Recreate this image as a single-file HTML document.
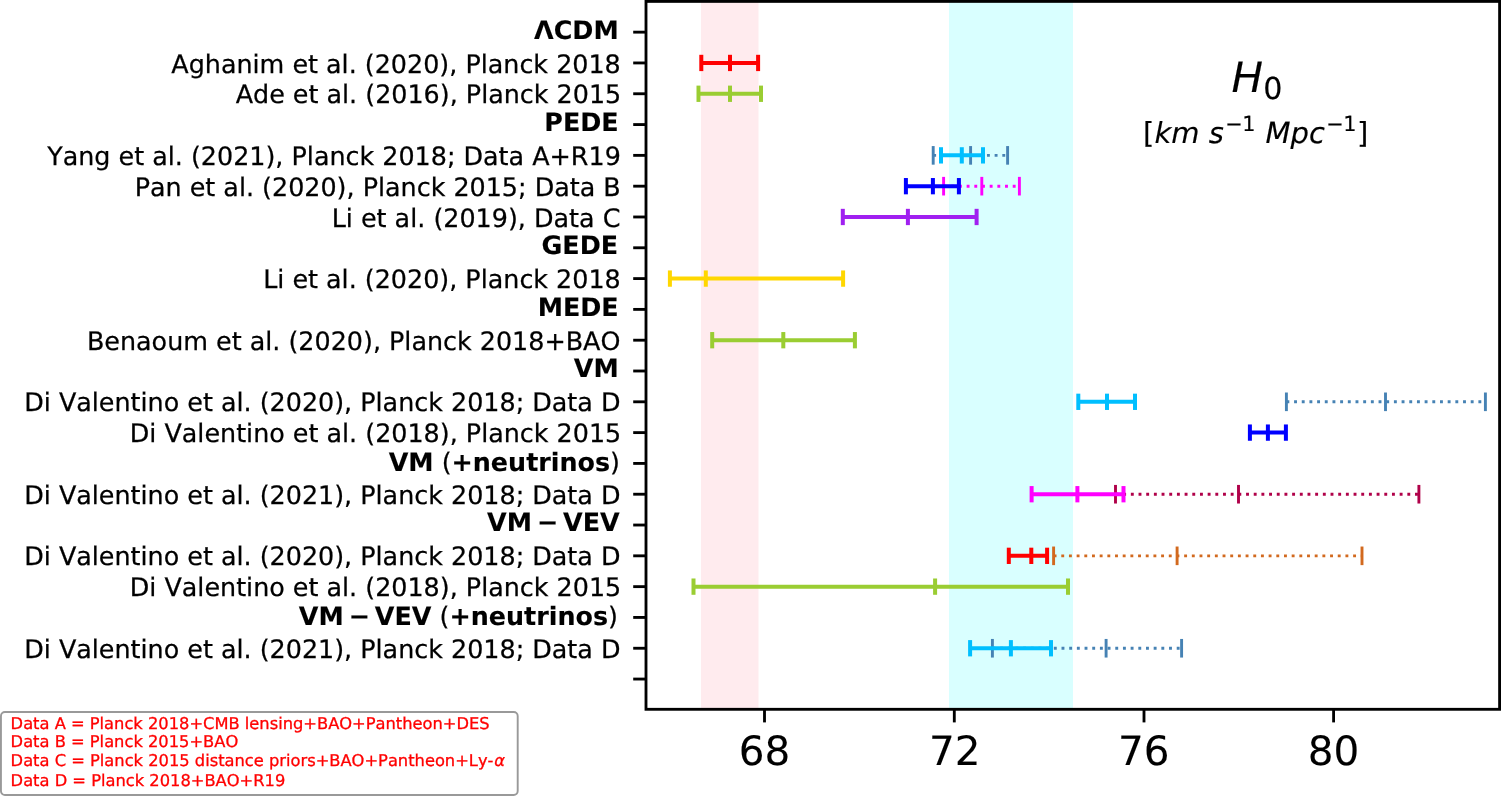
<!DOCTYPE html>
<html><head><meta charset="utf-8"><title>H0 compilation</title>
<style>html,body{margin:0;padding:0;background:#ffffff;overflow:hidden}svg{display:block}text{font-family:"DejaVu Sans","Liberation Sans",sans-serif;font-kerning:none;font-feature-settings:"kern" 0;text-rendering:geometricPrecision}.r{stroke:#000;stroke-width:.25px}.b{stroke:#000;stroke-width:.12px}.t{stroke:#000;stroke-width:.1px}.h{stroke:#000;stroke-width:.15px}.l{stroke:#f00;stroke-width:.3px}</style></head><body>
<svg width="1501" height="796" viewBox="0 0 1501 796">
<rect x="0" y="0" width="1501" height="796" fill="#ffffff"/>
<rect x="701" y="1.4" width="57.5" height="707.9" fill="#FFEBEE"/>
<rect x="949" y="1.4" width="124" height="707.9" fill="#D9FFFF"/>
<line x1="701.3" y1="62.95" x2="758.1" y2="62.95" stroke="#FF0000" stroke-width="4.0"/>
<rect x="699.3" y="54.8" width="4" height="16.3" fill="#FF0000"/>
<rect x="756.1" y="54.8" width="4" height="16.3" fill="#FF0000"/>
<rect x="728" y="54.8" width="4" height="16.3" fill="#FF0000"/>
<line x1="698.5" y1="93.76" x2="761" y2="93.76" stroke="#9ACD32" stroke-width="4.0"/>
<rect x="696.5" y="85.61" width="4" height="16.3" fill="#9ACD32"/>
<rect x="759" y="85.61" width="4" height="16.3" fill="#9ACD32"/>
<rect x="728" y="85.61" width="4" height="16.3" fill="#9ACD32"/>
<line x1="933.2" y1="155.37" x2="1007.6" y2="155.37" stroke="#4682B4" stroke-width="2.9" stroke-dasharray="2.9 4.78"/>
<rect x="931.75" y="146.07" width="2.9" height="18.6" fill="#4682B4"/>
<rect x="1006.15" y="146.07" width="2.9" height="18.6" fill="#4682B4"/>
<rect x="969.15" y="146.07" width="2.9" height="18.6" fill="#4682B4"/>
<line x1="941" y1="155.37" x2="983" y2="155.37" stroke="#00BFFF" stroke-width="4.0"/>
<rect x="939" y="147.22" width="4" height="16.3" fill="#00BFFF"/>
<rect x="981" y="147.22" width="4" height="16.3" fill="#00BFFF"/>
<rect x="959.8" y="147.22" width="4" height="16.3" fill="#00BFFF"/>
<line x1="943.6" y1="186.18" x2="1019.4" y2="186.18" stroke="#FF00FF" stroke-width="2.9" stroke-dasharray="2.9 4.78"/>
<rect x="942.15" y="176.88" width="2.9" height="18.6" fill="#FF00FF"/>
<rect x="1017.95" y="176.88" width="2.9" height="18.6" fill="#FF00FF"/>
<rect x="980.35" y="176.88" width="2.9" height="18.6" fill="#FF00FF"/>
<line x1="905.9" y1="186.18" x2="958.9" y2="186.18" stroke="#0000FF" stroke-width="4.0"/>
<rect x="903.9" y="178.03" width="4" height="16.3" fill="#0000FF"/>
<rect x="956.9" y="178.03" width="4" height="16.3" fill="#0000FF"/>
<rect x="930.9" y="178.03" width="4" height="16.3" fill="#0000FF"/>
<line x1="842.8" y1="216.98" x2="976.6" y2="216.98" stroke="#A020F0" stroke-width="4.0"/>
<rect x="840.8" y="208.83" width="4" height="16.3" fill="#A020F0"/>
<rect x="974.6" y="208.83" width="4" height="16.3" fill="#A020F0"/>
<rect x="905.9" y="208.83" width="4" height="16.3" fill="#A020F0"/>
<line x1="669.9" y1="278.59" x2="843.1" y2="278.59" stroke="#FFD700" stroke-width="4.0"/>
<rect x="667.9" y="270.44" width="4" height="16.3" fill="#FFD700"/>
<rect x="841.1" y="270.44" width="4" height="16.3" fill="#FFD700"/>
<rect x="703.8" y="270.44" width="4" height="16.3" fill="#FFD700"/>
<line x1="712.2" y1="340.2" x2="854.9" y2="340.2" stroke="#9ACD32" stroke-width="4.0"/>
<rect x="710.2" y="332.05" width="4" height="16.3" fill="#9ACD32"/>
<rect x="852.9" y="332.05" width="4" height="16.3" fill="#9ACD32"/>
<rect x="781.3" y="332.05" width="4" height="16.3" fill="#9ACD32"/>
<line x1="1286.4" y1="401.81" x2="1485.4" y2="401.81" stroke="#4682B4" stroke-width="2.9" stroke-dasharray="2.9 4.78"/>
<rect x="1284.95" y="392.51" width="2.9" height="18.6" fill="#4682B4"/>
<rect x="1483.95" y="392.51" width="2.9" height="18.6" fill="#4682B4"/>
<rect x="1384.05" y="392.51" width="2.9" height="18.6" fill="#4682B4"/>
<line x1="1078.3" y1="401.81" x2="1135" y2="401.81" stroke="#00BFFF" stroke-width="4.0"/>
<rect x="1076.3" y="393.66" width="4" height="16.3" fill="#00BFFF"/>
<rect x="1133" y="393.66" width="4" height="16.3" fill="#00BFFF"/>
<rect x="1105" y="393.66" width="4" height="16.3" fill="#00BFFF"/>
<line x1="1249.9" y1="432.61" x2="1285.9" y2="432.61" stroke="#0000FF" stroke-width="4.0"/>
<rect x="1247.9" y="424.46" width="4" height="16.3" fill="#0000FF"/>
<rect x="1283.9" y="424.46" width="4" height="16.3" fill="#0000FF"/>
<rect x="1265.9" y="424.46" width="4" height="16.3" fill="#0000FF"/>
<line x1="1115.5" y1="494.22" x2="1418.9" y2="494.22" stroke="#B00149" stroke-width="2.9" stroke-dasharray="2.9 4.78"/>
<rect x="1114.05" y="484.92" width="2.9" height="18.6" fill="#B00149"/>
<rect x="1417.45" y="484.92" width="2.9" height="18.6" fill="#B00149"/>
<rect x="1237.05" y="484.92" width="2.9" height="18.6" fill="#B00149"/>
<line x1="1031.6" y1="494.22" x2="1123.5" y2="494.22" stroke="#FF00FF" stroke-width="4.0"/>
<rect x="1029.6" y="486.07" width="4" height="16.3" fill="#FF00FF"/>
<rect x="1121.5" y="486.07" width="4" height="16.3" fill="#FF00FF"/>
<rect x="1075.4" y="486.07" width="4" height="16.3" fill="#FF00FF"/>
<line x1="1053.6" y1="555.83" x2="1362" y2="555.83" stroke="#D2691E" stroke-width="2.9" stroke-dasharray="2.9 4.78"/>
<rect x="1052.15" y="546.53" width="2.9" height="18.6" fill="#D2691E"/>
<rect x="1360.55" y="546.53" width="2.9" height="18.6" fill="#D2691E"/>
<rect x="1175.65" y="546.53" width="2.9" height="18.6" fill="#D2691E"/>
<line x1="1008.8" y1="555.83" x2="1047.1" y2="555.83" stroke="#FF0000" stroke-width="4.0"/>
<rect x="1006.8" y="547.68" width="4" height="16.3" fill="#FF0000"/>
<rect x="1045.1" y="547.68" width="4" height="16.3" fill="#FF0000"/>
<rect x="1029.3" y="547.68" width="4" height="16.3" fill="#FF0000"/>
<line x1="693.5" y1="586.64" x2="1068" y2="586.64" stroke="#9ACD32" stroke-width="4.0"/>
<rect x="691.5" y="578.49" width="4" height="16.3" fill="#9ACD32"/>
<rect x="1066" y="578.49" width="4" height="16.3" fill="#9ACD32"/>
<rect x="933.1" y="578.49" width="4" height="16.3" fill="#9ACD32"/>
<line x1="992.4" y1="648.25" x2="1181.6" y2="648.25" stroke="#4682B4" stroke-width="2.9" stroke-dasharray="2.9 4.78"/>
<rect x="990.95" y="638.95" width="2.9" height="18.6" fill="#4682B4"/>
<rect x="1180.15" y="638.95" width="2.9" height="18.6" fill="#4682B4"/>
<rect x="1104.65" y="638.95" width="2.9" height="18.6" fill="#4682B4"/>
<line x1="970.1" y1="648.25" x2="1051" y2="648.25" stroke="#00BFFF" stroke-width="4.0"/>
<rect x="968.1" y="640.1" width="4" height="16.3" fill="#00BFFF"/>
<rect x="1049" y="640.1" width="4" height="16.3" fill="#00BFFF"/>
<rect x="1008.9" y="640.1" width="4" height="16.3" fill="#00BFFF"/>
<rect x="646" y="1.4" width="853.6" height="707.9" fill="none" stroke="#000" stroke-width="2.85"/>
<line x1="633.2" y1="32.15" x2="646" y2="32.15" stroke="#000" stroke-width="2.85"/>
<line x1="633.2" y1="62.95" x2="646" y2="62.95" stroke="#000" stroke-width="2.85"/>
<line x1="633.2" y1="93.76" x2="646" y2="93.76" stroke="#000" stroke-width="2.85"/>
<line x1="633.2" y1="124.56" x2="646" y2="124.56" stroke="#000" stroke-width="2.85"/>
<line x1="633.2" y1="155.37" x2="646" y2="155.37" stroke="#000" stroke-width="2.85"/>
<line x1="633.2" y1="186.18" x2="646" y2="186.18" stroke="#000" stroke-width="2.85"/>
<line x1="633.2" y1="216.98" x2="646" y2="216.98" stroke="#000" stroke-width="2.85"/>
<line x1="633.2" y1="247.78" x2="646" y2="247.78" stroke="#000" stroke-width="2.85"/>
<line x1="633.2" y1="278.59" x2="646" y2="278.59" stroke="#000" stroke-width="2.85"/>
<line x1="633.2" y1="309.39" x2="646" y2="309.39" stroke="#000" stroke-width="2.85"/>
<line x1="633.2" y1="340.2" x2="646" y2="340.2" stroke="#000" stroke-width="2.85"/>
<line x1="633.2" y1="371" x2="646" y2="371" stroke="#000" stroke-width="2.85"/>
<line x1="633.2" y1="401.81" x2="646" y2="401.81" stroke="#000" stroke-width="2.85"/>
<line x1="633.2" y1="432.61" x2="646" y2="432.61" stroke="#000" stroke-width="2.85"/>
<line x1="633.2" y1="463.42" x2="646" y2="463.42" stroke="#000" stroke-width="2.85"/>
<line x1="633.2" y1="494.22" x2="646" y2="494.22" stroke="#000" stroke-width="2.85"/>
<line x1="633.2" y1="525.03" x2="646" y2="525.03" stroke="#000" stroke-width="2.85"/>
<line x1="633.2" y1="555.83" x2="646" y2="555.83" stroke="#000" stroke-width="2.85"/>
<line x1="633.2" y1="586.64" x2="646" y2="586.64" stroke="#000" stroke-width="2.85"/>
<line x1="633.2" y1="617.44" x2="646" y2="617.44" stroke="#000" stroke-width="2.85"/>
<line x1="633.2" y1="648.25" x2="646" y2="648.25" stroke="#000" stroke-width="2.85"/>
<line x1="633.2" y1="679.05" x2="646" y2="679.05" stroke="#000" stroke-width="2.85"/>
<line x1="764.5" y1="709.3" x2="764.5" y2="722.4" stroke="#000" stroke-width="2.85"/>
<text class="t" x="738.7" y="765.45" font-size="40.5">68</text>
<line x1="954.3" y1="709.3" x2="954.3" y2="722.4" stroke="#000" stroke-width="2.85"/>
<text class="t" x="928.92" y="765.45" font-size="40.5">72</text>
<line x1="1144" y1="709.3" x2="1144" y2="722.4" stroke="#000" stroke-width="2.85"/>
<text class="t" x="1117.88" y="765.45" font-size="40.5">76</text>
<line x1="1333.6" y1="709.3" x2="1333.6" y2="722.4" stroke="#000" stroke-width="2.85"/>
<text class="t" x="1307.8" y="765.45" font-size="40.5">80</text>
<text class="b" x="618.7" y="38.95" font-size="25.4" font-weight="bold" text-anchor="end">ΛCDM</text>
<text class="r" x="620.76" y="72.5" font-size="25.4" text-anchor="end">Aghanim et al. (2020), Planck 2018</text>
<text class="r" x="621.21" y="103.31" font-size="25.4" text-anchor="end">Ade et al. (2016), Planck 2015</text>
<text class="b" x="618.7" y="130.97" font-size="25.4" font-weight="bold" text-anchor="end">PEDE</text>
<text class="r" x="620.81" y="164.92" font-size="25.4" text-anchor="end">Yang et al. (2021), Planck 2018; Data A+R19</text>
<text class="r" x="620.77" y="195.73" font-size="25.4" text-anchor="end">Pan et al. (2020), Planck 2015; Data B</text>
<text class="r" x="620.39" y="226.53" font-size="25.4" text-anchor="end">Li et al. (2019), Data C</text>
<text class="b" x="618.1" y="254.19" font-size="25.4" font-weight="bold" text-anchor="end">GEDE</text>
<text class="r" x="620.76" y="288.14" font-size="25.4" text-anchor="end">Li et al. (2020), Planck 2018</text>
<text class="b" x="618.7" y="315.79" font-size="25.4" font-weight="bold" text-anchor="end">MEDE</text>
<text class="r" x="620.44" y="349.75" font-size="25.4" text-anchor="end">Benaoum et al. (2020), Planck 2018+BAO</text>
<text class="b" x="618.7" y="377.4" font-size="25.4" font-weight="bold" text-anchor="end">VM</text>
<text class="r" x="620.51" y="411.36" font-size="25.4" text-anchor="end">Di Valentino et al. (2020), Planck 2018; Data D</text>
<text class="r" x="621.21" y="442.16" font-size="25.4" text-anchor="end">Di Valentino et al. (2018), Planck 2015</text>
<text y="470.72" font-size="25.4"><tspan x="388.69" font-weight="bold" class="b">V</tspan><tspan x="408.33" font-weight="bold" class="b">M</tspan><tspan x="433.58" class="r"> </tspan><tspan x="441.65" class="r">(</tspan><tspan x="451.55" font-weight="bold" class="b">+</tspan><tspan x="472.81" font-weight="bold" class="b">neutrinos</tspan><tspan x="610.09" class="r">)</tspan></text>
<text class="r" x="620.51" y="503.77" font-size="25.4" text-anchor="end">Di Valentino et al. (2021), Planck 2018; Data D</text>
<text y="531.43" font-size="25.4"><tspan x="487.05" font-weight="bold" class="b">V</tspan><tspan x="506.69" font-weight="bold" class="b">M</tspan><tspan x="536.88" font-weight="bold" class="b">−</tspan><tspan x="563.09" font-weight="bold" class="b">V</tspan><tspan x="582.73" font-weight="bold" class="b">E</tspan><tspan x="600.06" font-weight="bold" class="b">V</tspan></text>
<text class="r" x="620.51" y="565.38" font-size="25.4" text-anchor="end">Di Valentino et al. (2020), Planck 2018; Data D</text>
<text class="r" x="621.21" y="596.19" font-size="25.4" text-anchor="end">Di Valentino et al. (2018), Planck 2015</text>
<text y="624.74" font-size="25.4"><tspan x="298.83" font-weight="bold" class="b">V</tspan><tspan x="318.47" font-weight="bold" class="b">M</tspan><tspan x="348.67" font-weight="bold" class="b">−</tspan><tspan x="374.87" font-weight="bold" class="b">V</tspan><tspan x="394.51" font-weight="bold" class="b">E</tspan><tspan x="411.84" font-weight="bold" class="b">V</tspan><tspan x="431.48" class="r"> </tspan><tspan x="439.55" class="r">(</tspan><tspan x="449.45" font-weight="bold" class="b">+</tspan><tspan x="470.71" font-weight="bold" class="b">neutrinos</tspan><tspan x="607.99" class="r">)</tspan></text>
<text class="r" x="620.51" y="657.8" font-size="25.4" text-anchor="end">Di Valentino et al. (2021), Planck 2018; Data D</text>
<text class="h" y="91.5" font-size="41.9"><tspan x="1231.5" font-style="oblique">H</tspan><tspan x="1263.2" y="99.4" font-size="30.2">0</tspan></text>
<text class="h"><tspan x="1143.1" y="142.9" font-size="29">[</tspan><tspan x="1154.41" y="142.9" font-size="29" font-style="oblique">k</tspan><tspan x="1171.21" y="142.9" font-size="29" font-style="oblique">m</tspan><tspan x="1208.87" y="142.9" font-size="29" font-style="oblique">s</tspan><tspan x="1225.33" y="131.4" font-size="20.8">−</tspan><tspan x="1242.34" y="131.4" font-size="20.8">1</tspan><tspan x="1265.46" y="142.9" font-size="29" font-style="oblique">M</tspan><tspan x="1290.48" y="142.9" font-size="29" font-style="oblique">p</tspan><tspan x="1308.89" y="142.9" font-size="29" font-style="oblique">c</tspan><tspan x="1326.19" y="131.4" font-size="20.8">−</tspan><tspan x="1343.19" y="131.4" font-size="20.8">1</tspan><tspan x="1356.9" y="142.9" font-size="29">]</tspan></text>
<rect x="0.95" y="712" width="516.75" height="83" rx="4" ry="4" fill="#ffffff" stroke="#999999" stroke-width="1.9"/>
<text class="l" x="10.6" y="729.2" font-size="16.3" fill="#FF0000">Data A = Planck 2018+CMB lensing+BAO+Pantheon+DES</text>
<text class="l" x="10.6" y="747.3" font-size="16.3" fill="#FF0000">Data B = Planck 2015+BAO</text>
<text class="l" x="10.6" y="786.3" font-size="16.3" fill="#FF0000">Data D = Planck 2018+BAO+R19</text>
<text class="l" x="10.6" y="765.6" font-size="16.3" fill="#FF0000">Data C = Planck 2015 distance priors+BAO+Pantheon+Ly-<tspan x="494.2" font-style="oblique">α</tspan></text>
</svg></body></html>
